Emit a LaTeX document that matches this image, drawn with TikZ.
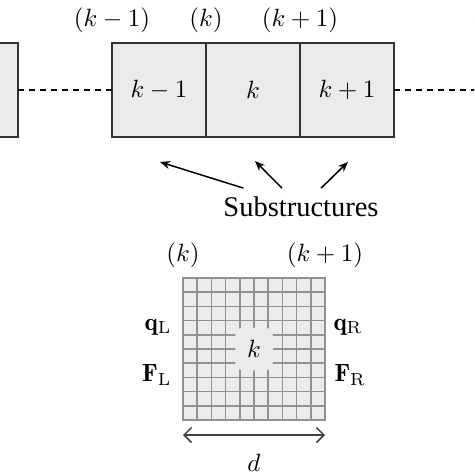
\documentclass[tikz,border=0pt]{standalone}
\usepackage{amsmath}
\usepackage{fontspec}
\newfontfamily\captionfont{Liberation Serif}
\usetikzlibrary{positioning, arrows.meta, calc}
\definecolor{boxfill}{RGB}{235,235,235}
\definecolor{gridgray}{RGB}{145,145,145}

\begin{document}
\begin{tikzpicture}[
    x=0.4pt, y=-0.4pt,
    sub/.style={rectangle, draw=black!80, fill=boxfill, line width=0.6pt, minimum size=37.6pt, inner sep=0pt, outer sep=0pt},
    lbl/.style={inner sep=0pt},
    arrow/.style={-{Stealth[length=4pt, width=3.2pt]}, line width=0.6pt},
    link/.style={dash pattern=on 2.4pt off 2pt, line width=0.6pt},
    cellline/.style={gridgray, line width=0.65pt}
]
\useasboundingbox (0,0) rectangle (474,474);
\clip (0,0) rectangle (474,474);

% chain of substructures
\node[sub] (skm) at (159,90) {$k-1$};
\node[sub, right=0pt of skm] (sk) {$k$};
\node[sub, right=0pt of sk] (skp) {$k+1$};
\node[sub] (sfirst) at (-29,90) {};
\node[sub] (slast) at (529,90) {};

\draw[link] (sfirst) -- (skm);
\draw[link] (skp) -- (slast);

\node[lbl, above=4pt of skm.north west] (ikm) {$(k-1)$};
\node[lbl, above=4pt of sk.north west] (ik) {$(k)$};
\node[lbl, above=4pt of skp.north west] (ikp) {$(k+1)$};
\node[lbl, anchor=south west] (ilast) at ([xshift=-4pt, yshift=4pt]slast.north west) {$($};

% substructure arrows
\node[font=\captionfont\fontsize{11.4}{13}\selectfont] (subtext) at (301,207) {Substructures};
\coordinate (t1) at (160,162);
\coordinate (t2) at (255,161);
\coordinate (t3) at (348,162);
\draw[arrow] ([xshift=-23pt]subtext.north) -- (t1);
\draw[arrow] ([xshift=-7.6pt]subtext.north) -- (t2);
\draw[arrow] ([xshift=8pt]subtext.north) -- (t3);

% one substructure, discretised
\node[sub, draw=gridgray, line width=0.8pt, minimum size=56.8pt] (cell) at (254,349) {};
\foreach \i in {1,...,9} {
    \draw[cellline] ([xshift=\i*5.68pt]cell.north west) -- ([xshift=\i*5.68pt]cell.south west);
    \draw[cellline] ([yshift=-\i*5.68pt]cell.north west) -- ([yshift=-\i*5.68pt]cell.north east);
}
\node[rectangle, rounded corners=3pt, fill=boxfill, minimum width=15pt, minimum height=17pt, inner sep=0pt] (kc) at (cell.center) {$k$};

\node[lbl, above=4pt of cell.north west] (ck) {$(k)$};
\node[lbl, above=4pt of cell.north east] (ckp) {$(k+1)$};
\node[lbl, anchor=east] (ql) at ($(cell.west)+(-11,-22)$) {$\mathbf{q}_{\mathrm{L}}$};
\node[lbl, anchor=east] (fl) at ($(cell.west)+(-11,26)$) {$\mathbf{F}_{\mathrm{L}}$};
\node[lbl, anchor=west] (qr) at ($(cell.east)+(8,-22)$) {$\mathbf{q}_{\mathrm{R}}$};
\node[lbl, anchor=west] (fr) at ($(cell.east)+(9,26)$) {$\mathbf{F}_{\mathrm{R}}$};

\draw[{Straight Barb[length=3pt]}-{Straight Barb[length=3pt]}, black!75, line width=0.6pt]
    ($(cell.south west)+(0,15)$) -- ($(cell.south east)+(0,15)$)
    node[midway, below=4pt, black] (dlen) {$d$};
\end{tikzpicture}
\end{document}
